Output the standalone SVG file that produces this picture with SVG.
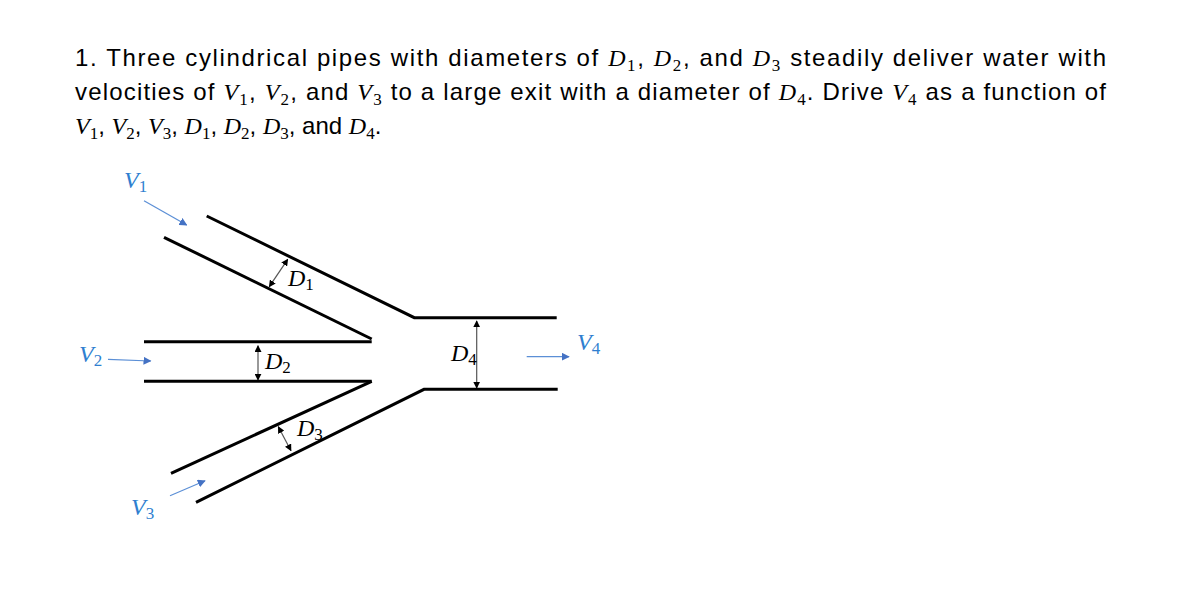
<svg xmlns="http://www.w3.org/2000/svg" width="1177" height="595" viewBox="0 0 1177 595">
<style>
.t{font-family:"Liberation Sans",Arial,sans-serif;font-size:24px;fill:#000}
.m{font-family:"Liberation Serif",serif;font-style:italic}
.s{font-size:17px;font-style:normal}
.p{stroke:#000;stroke-width:3;fill:none}
.d{stroke:#555;stroke-width:1.2;fill:none;marker-start:url(#ka);marker-end:url(#ka)}
.v{stroke:#5b8fd6;stroke-width:1.2;fill:none;marker-end:url(#ba)}
.lb{font-family:"Liberation Serif",serif;font-style:italic;font-size:24px}
.bl{fill:#2f7fd0}
</style>
<defs>
<marker id="ka" viewBox="0 0 10 10" refX="9" refY="5" markerWidth="7" markerHeight="7" orient="auto-start-reverse" markerUnits="userSpaceOnUse"><path d="M0,0L10,5L0,10z" fill="#000"/></marker>
<marker id="ba" viewBox="0 0 10 10" refX="9" refY="5" markerWidth="8" markerHeight="8" orient="auto" markerUnits="userSpaceOnUse"><path d="M0,0L10,5L0,10z" fill="#4472c4"/></marker>
</defs>
<g id="question">
<text class="t" x="75" y="66" textLength="1031" lengthAdjust="spacing">1. Three cylindrical pipes with diameters of <tspan class="m">D<tspan class="s" dy="5">1</tspan></tspan><tspan dy="-5">, </tspan><tspan class="m">D<tspan class="s" dy="5">2</tspan></tspan><tspan dy="-5">, and </tspan><tspan class="m">D<tspan class="s" dy="5">3</tspan></tspan><tspan dy="-5"> steadily deliver water with</tspan></text>
<text class="t" x="75" y="100" textLength="1031" lengthAdjust="spacing">velocities of <tspan class="m">V<tspan class="s" dy="5">1</tspan></tspan><tspan dy="-5">, </tspan><tspan class="m">V<tspan class="s" dy="5">2</tspan></tspan><tspan dy="-5">, and </tspan><tspan class="m">V<tspan class="s" dy="5">3</tspan></tspan><tspan dy="-5"> to a large exit with a diameter of </tspan><tspan class="m">D<tspan class="s" dy="5">4</tspan></tspan><tspan dy="-5">. Drive </tspan><tspan class="m">V<tspan class="s" dy="5">4</tspan></tspan><tspan dy="-5"> as a function of</tspan></text>
<text class="t" x="75" y="134"><tspan class="m">V<tspan class="s" dy="5">1</tspan></tspan><tspan dy="-5">, </tspan><tspan class="m">V<tspan class="s" dy="5">2</tspan></tspan><tspan dy="-5">, </tspan><tspan class="m">V<tspan class="s" dy="5">3</tspan></tspan><tspan dy="-5">, </tspan><tspan class="m">D<tspan class="s" dy="5">1</tspan></tspan><tspan dy="-5">, </tspan><tspan class="m">D<tspan class="s" dy="5">2</tspan></tspan><tspan dy="-5">, </tspan><tspan class="m">D<tspan class="s" dy="5">3</tspan></tspan><tspan dy="-5">, and </tspan><tspan class="m">D<tspan class="s" dy="5">4</tspan></tspan><tspan dy="-5">.</tspan></text>
</g>
<g id="pipes">
<polyline class="p" points="206.7,216 414.3,317.7 556.7,317.7"/>
<line class="p" x1="164" y1="237.3" x2="371.7" y2="339"/>
<line class="p" x1="144" y1="341.7" x2="371.7" y2="341.7"/>
<line class="p" x1="144" y1="381.3" x2="371.7" y2="381.3"/>
<line class="p" x1="371.7" y1="381.3" x2="171" y2="473.3"/>
<polyline class="p" points="196,502.3 424,389.3 557.7,389.3"/>
</g>
<g id="connectors">
<line class="d" x1="287.7" y1="259.3" x2="269.3" y2="286.7"/>
<line class="d" x1="258" y1="345.7" x2="258" y2="380"/>
<line class="d" x1="278.3" y1="426.7" x2="291" y2="450.7"/>
<line class="d" x1="476.7" y1="321" x2="476.7" y2="388"/>
<line class="v" x1="144" y1="200.7" x2="186.7" y2="225"/>
<line class="v" x1="108" y1="359.3" x2="150.7" y2="361"/>
<line class="v" x1="170" y1="495.7" x2="205" y2="480.7"/>
<line class="v" x1="526.7" y1="356.7" x2="569" y2="356.7"/>
</g>
<g id="labels">
<text class="lb" x="288" y="286">D<tspan class="s" dy="4">1</tspan></text>
<text class="lb" x="265" y="369">D<tspan class="s" dy="4">2</tspan></text>
<text class="lb" x="297" y="436">D<tspan class="s" dy="4">3</tspan></text>
<text class="lb" x="451" y="361">D<tspan class="s" dy="4">4</tspan></text>
<text class="lb bl" x="124" y="188">V<tspan class="s" dy="4">1</tspan></text>
<text class="lb bl" x="79" y="362">V<tspan class="s" dy="4">2</tspan></text>
<text class="lb bl" x="131" y="515">V<tspan class="s" dy="4">3</tspan></text>
<text class="lb bl" x="577" y="350">V<tspan class="s" dy="4">4</tspan></text>
</g>
</svg>
